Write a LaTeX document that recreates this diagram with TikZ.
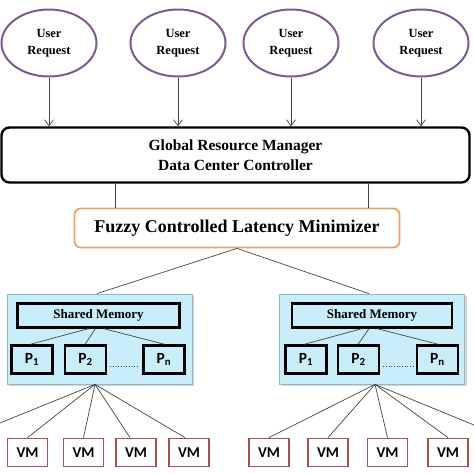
\documentclass[tikz,border=0pt]{standalone}
\usepackage{fontspec}
\setmainfont{Liberation Serif}
\newfontfamily\carlfont{Carlito}
\usetikzlibrary{arrows.meta,shadows,calc,shapes.geometric}
\definecolor{ellcol}{HTML}{7A5C8E}
\definecolor{fzcol}{HTML}{E5A670}
\definecolor{clfill}{HTML}{C9EEFA}
\definecolor{cldraw}{HTML}{90B8CF}
\definecolor{vmcol}{HTML}{A3504F}
\definecolor{lncol}{HTML}{444444}
\tikzset{
  userell/.style={draw=ellcol, line width=2pt, ellipse, minimum width=95pt, minimum height=67pt, inner sep=0pt, align=center, font=\fontsize{12.5}{17}\selectfont\bfseries},
  gmbox/.style={draw=black, line width=2.4pt, rounded corners=8pt, minimum width=468pt, minimum height=55pt, inner sep=0pt, align=center, font=\fontsize{15.5}{20}\selectfont\bfseries},
  fzbox/.style={draw=fzcol, line width=1.8pt, rounded corners=6pt, minimum width=325pt, minimum height=39pt, inner sep=0pt, font=\fontsize{18}{22}\selectfont\bfseries},
  clbox/.style={draw=cldraw, fill=clfill, line width=0.8pt, minimum width=185pt, minimum height=90pt, inner sep=0pt, drop shadow={opacity=0.35, shadow xshift=2pt, shadow yshift=-2pt}},
  smbox/.style={draw=black, fill=clfill, line width=2.2pt, minimum width=162pt, minimum height=24pt, inner sep=0pt, font=\fontsize{13}{15}\selectfont\bfseries},
  pbox/.style={draw=black, fill=clfill, line width=2.2pt, minimum width=41pt, minimum height=28pt, inner sep=0pt, font=\carlfont\fontsize{15.5}{17}\selectfont\bfseries},
  vmbox/.style={draw=vmcol, fill=white, line width=1.8pt, minimum width=40pt, minimum height=28pt, inner sep=0pt, font=\carlfont\fontsize{15}{17}\selectfont\bfseries},
  conn/.style={draw=lncol, line width=0.7pt},
  arr/.style={conn, -{Straight Barb[length=6pt,width=9pt]}}
}
\begin{document}
\begin{tikzpicture}[x=1pt,y=-1pt]
\useasboundingbox (0,0) rectangle (474,474);
% user requests
\node[userell] (u1) at (49,43) {User\\Request};
\node[userell] (u2) at (178,43) {User\\Request};
\node[userell] (u3) at (291,43) {User\\Request};
\node[userell] (u4) at (421,43) {User\\Request};
% global manager
\node[gmbox] (gm) at (235.5,155) {Global Resource Manager\\Data Center Controller};
\foreach \i in {1,2,3,4}{
  \draw[arr] (u\i.south) -- (u\i.south |- gm.north);
}
% fuzzy
\node[fzbox] (fz) at (237,228) {Fuzzy Controlled Latency Minimizer};
\coordinate (gx1) at (115,0);
\coordinate (gx2) at (368,0);
\draw[conn] (gm.south -| gx1) -- (fz.north -| gx1);
\draw[conn] (gm.south -| gx2) -- (fz.north -| gx2);
% clusters
\node[clbox] (cL) at (99.5,339) {};
\node[clbox] (cR) at (372,339) {};
\draw[conn] (fz.south) -- ([xshift=-2.5pt]cL.north);
\draw[conn] (fz.south) -- ([xshift=-3pt]cR.north);
% left cluster inner
\node[smbox] (smL) at (98.5,315.5) {Shared Memory};
\node[pbox] (p1L) at (32,359.5) {P\textsubscript{1}};
\node[pbox] (p2L) at (85.5,359.5) {P\textsubscript{2}};
\node[pbox] (pnL) at (164,359.5) {P\textsubscript{n}};
\draw[conn] ([xshift=-10pt]smL.south) -- ([xshift=-2pt]p1L.north);
\draw[conn] ([xshift=-3pt]smL.south) -- ([xshift=-0.5pt]p2L.north);
\draw[conn] ([xshift=5pt]smL.south) -- ([xshift=1pt]pnL.north);
\draw[conn, dotted, line width=0.8pt] ([yshift=-6.5pt,xshift=3pt]p2L.east) -- ([yshift=-6.5pt,xshift=-3pt]pnL.west);
% right cluster inner
\node[smbox, minimum width=160pt] (smR) at (372,315.5) {Shared Memory};
\node[pbox] (p1R) at (306,359.5) {P\textsubscript{1}};
\node[pbox] (p2R) at (358.5,359.5) {P\textsubscript{2}};
\node[pbox] (pnR) at (437.5,359.5) {P\textsubscript{n}};
\draw[conn] ([xshift=-10pt]smR.south) -- ([xshift=-2pt]p1R.north);
\draw[conn] ([xshift=-3pt]smR.south) -- ([xshift=-0.5pt]p2R.north);
\draw[conn] ([xshift=5pt]smR.south) -- ([xshift=1pt]pnR.north);
\draw[conn, dotted, line width=0.8pt] ([yshift=-6.5pt,xshift=3pt]p2R.east) -- ([yshift=-6.5pt,xshift=-3pt]pnR.west);
% VMs
\node[vmbox] (v1) at (27.5,452.5) {VM};
\node[vmbox] (v2) at (83.5,452.5) {VM};
\node[vmbox] (v3) at (136,452.5) {VM};
\node[vmbox] (v4) at (189,452.5) {VM};
\node[vmbox] (v5) at (269,452.5) {VM};
\node[vmbox] (v6) at (328,452.5) {VM};
\node[vmbox] (v7) at (387.5,452.5) {VM};
\node[vmbox] (v8) at (448,452.5) {VM};
\coordinate (rL) at ([xshift=-4.5pt]cL.south);
\coordinate (rR) at ([xshift=3pt]cR.south);
\coordinate (offL) at (0,423);
\coordinate (offR) at (474,425);
\draw[conn] (rL) -- (offL);
\draw[conn] (rL) -- (v1.north);
\draw[conn] (rL) -- (v2.north);
\draw[conn] (rL) -- ([xshift=-6pt]v3.north);
\draw[conn] (rL) -- ([xshift=-4pt]v4.north);
\draw[conn] (rR) -- (v5.north);
\draw[conn] (rR) -- (v6.north);
\draw[conn] (rR) -- (v7.north);
\draw[conn] (rR) -- (v8.north);
\draw[conn] (rR) -- (offR);
\end{tikzpicture}
\end{document}
